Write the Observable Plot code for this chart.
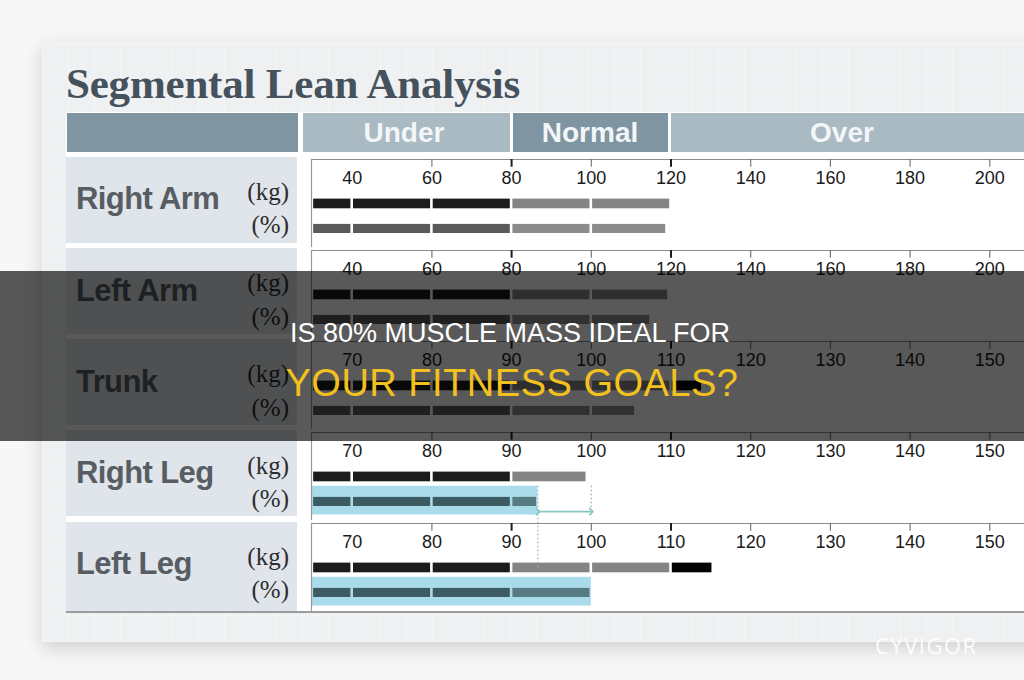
<!DOCTYPE html>
<html>
<head>
<meta charset="utf-8">
<script src="https://cdn.jsdelivr.net/npm/d3@7"></script>
<script src="https://cdn.jsdelivr.net/npm/@observablehq/plot@0.6"></script>
<style>
html, body { margin: 0; padding: 0; }
body { width: 1024px; height: 680px; position: relative; overflow: hidden; background: #f7f7f7; font-family: "Liberation Sans", Arial, sans-serif; }
.abs { position: absolute; }
.txt { position: absolute; line-height: 1; white-space: nowrap; }
#card { left: 42px; top: 42px; width: 1010px; height: 600px; background: #eef0f1;
  box-shadow: 0 6px 18px rgba(0,0,0,0.16);
  background-image: repeating-linear-gradient(90deg, rgba(255,255,255,0.35) 0 1px, transparent 1px 26px),
                    repeating-linear-gradient(0deg, rgba(255,255,255,0.3) 0 1px, transparent 1px 26px); }
#table { left: 66px; top: 112px; width: 958px; height: 500px; background: #ffffff; }
#bottomline { left: 66px; top: 611px; width: 958px; height: 1.5px; background: #9c9c9c; }
#banner { left: 0; top: 271px; width: 1024px; height: 170px; background: rgba(0,0,0,0.65); }
#chart { left: 0; top: 0; }
</style>
</head>
<body>
<div id="card" class="abs"></div>
<div id="table" class="abs"></div>
<div id="layer" class="abs" style="left:0;top:0;width:1024px;height:680px;"></div>
<div id="chart" class="abs"></div>
<div id="bottomline" class="abs"></div>
<div id="banner" class="abs"></div>
<div id="over" class="abs" style="left:0;top:0;width:1024px;height:680px;"></div>
<script>
// ---------------- data ----------------
const title = "Segmental Lean Analysis";
const rows = ["Right Arm", "Left Arm", "Trunk", "Right Leg", "Left Leg"];
const armTicks = [40, 60, 80, 100, 120, 140, 160, 180, 200];
const bodyTicks = [70, 80, 90, 100, 110, 120, 130, 140, 150];
const rowTicks = [armTicks, armTicks, bodyTicks, bodyTicks, bodyTicks];
const normalRanges = [[80, 120], [80, 120], [90, 110], [90, 110], [90, 110]];
const kgValues = [120, 119.5, 114, 99.5, 115.3];
const pctValues = [119, 115, 105.6, 93.3, 100];
const highlightedRows = ["Right Leg", "Left Leg"];
const targetPct = 100;
const zoneLabels = ["Under", "Normal", "Over"];
const unitLabels = ["(kg)", "(%)"];
const bannerLine1 = "IS 80% MUSCLE MASS IDEAL FOR";
const bannerLine2 = "YOUR FITNESS GOALS?";
const watermark = "CYVIGOR";

// ---------------- helpers ----------------
function place(parent, text, o) {
  const d = document.createElement("div");
  d.className = "txt";
  d.textContent = text;
  const asc = o.serif ? 0.8375 : 0.8465;
  d.style.fontSize = o.size + "px";
  d.style.fontFamily = o.family || (o.serif ? '"Liberation Serif", "Times New Roman", serif' : '"Liberation Sans", Arial, sans-serif');
  d.style.fontWeight = o.weight || "normal";
  d.style.color = o.color || "#000";
  if (o.ls) d.style.letterSpacing = o.ls + "px";
  d.style.top = (o.baseline - asc * o.size) + "px";
  d.style.left = o.x + "px";
  if (o.anchor === "middle") d.style.transform = "translateX(-50%)";
  if (o.anchor === "end") d.style.transform = "translateX(-100%)";
  parent.appendChild(d);
  return d;
}
function box(parent, x, y, w, h, color) {
  const d = document.createElement("div");
  d.className = "abs";
  Object.assign(d.style, {left: x + "px", top: y + "px", width: w + "px", height: h + "px", background: color});
  parent.appendChild(d);
}

const layer = document.getElementById("layer");
const over = document.getElementById("over");

// title
place(layer, title, {x: 66, baseline: 98.5, size: 43, serif: true, weight: "bold", color: "#45515c", ls: -0.2});

// header cells
const headerCells = [[66.7, 297.7, "#7f95a2"], [302.7, 510, "#a9bac3"], [512.7, 668.3, "#7f95a2"], [671, 1024, "#a9bac3"]];
headerCells.forEach(([a, b, c]) => box(layer, a, 112.7, b - a, 39, c));
const zoneCenters = [404, 590, 842];
zoneLabels.forEach((z, i) => place(layer, z, {x: zoneCenters[i], baseline: 142.5, size: 28, weight: "bold", color: "#f3f6f8", anchor: "middle"}));

// row label cells
rows.forEach((r, i) => {
  const top = 156.7 + i * 91.25;
  box(layer, 66.2, top, 231.3, i < 4 ? 86 : 90, "#dfe5ea");
  place(layer, r, {x: 76, baseline: top + 53, size: 31, weight: "bold", color: "#575d63", ls: -0.6});
  place(layer, unitLabels[0], {x: 289, baseline: top + 43, size: 25, serif: true, color: "#2e2e2e", anchor: "end"});
  place(layer, unitLabels[1], {x: 289, baseline: top + 76.5, size: 25, serif: true, color: "#2e2e2e", anchor: "end"});
});

// ---------------- chart data tables ----------------
const pos = (v, i) => (v - rowTicks[i][0]) / (rowTicks[i][1] - rowTicks[i][0]);
const startPos = -0.5;

const tickData = [];
rows.forEach((r, i) => rowTicks[i].forEach((t, k) => tickData.push({
  row: r, k, label: String(t), pos: pos(t, i),
  strong: normalRanges[i].includes(t)
})));

const palettes = {
  kg: {under: "#1c1c1c", normal: "#848484", over: "#030303"},
  pct: {under: "#5a5a5a", normal: "#8c8c8c", over: "#5a5a5a"},
  pctHi: {under: "#3c5b63", normal: "#587a83", over: "#3c5b63"}
};
function segments(i, value, band, palette) {
  const bounds = [startPos];
  rowTicks[i].forEach(t => { if (t < value) bounds.push(pos(t, i)); });
  bounds.push(pos(value, i));
  const [lo, hi] = normalRanges[i].map(v => pos(v, i));
  const out = [];
  for (let j = 0; j < bounds.length - 1; j++) {
    const mid = (bounds[j] + bounds[j + 1]) / 2;
    const zone = mid < lo ? "under" : mid < hi ? "normal" : "over";
    out.push({row: rows[i], band, x1: bounds[j], x2: bounds[j + 1], fill: palette[zone]});
  }
  return out;
}
let segs = [];
rows.forEach((r, i) => {
  segs = segs.concat(segments(i, kgValues[i], "kg", palettes.kg));
  const hi = highlightedRows.includes(r);
  segs = segs.concat(segments(i, pctValues[i], "pct", hi ? palettes.pctHi : palettes.pct));
});
const kgSegs = segs.filter(d => d.band === "kg");
const pctSegs = segs.filter(d => d.band === "pct");

const highlights = rows.map((r, i) => ({row: r, x1: startPos, x2: pos(pctValues[i], i), value: pctValues[i], i}))
  .filter(d => highlightedRows.includes(d.row));
const gaps = highlights.filter(d => d.value < targetPct).map(d => ({row: d.row, x1: d.x2, x2: pos(targetPct, d.i)}));

// ---------------- plot ----------------
const pxStep = 79.7, left = 311, right = 1024, zeroPx = 351.7;
const xDomain = [(left - zeroPx) / pxStep, (right - zeroPx) / pxStep];

const chart = Plot.plot({
  width: 1024, height: 680,
  marginLeft: left, marginRight: 0, marginTop: 157, marginBottom: 68,
  style: {background: "transparent", overflow: "visible"},
  x: {domain: xDomain, axis: null},
  y: {type: "band", domain: ["t", "kg", "pct"], padding: 0, axis: null},
  fy: {domain: rows, paddingInner: 0.04, paddingOuter: 0, axis: null},
  color: {type: "identity"},
  marks: [
    Plot.barX(highlights, {x1: "x1", x2: "x2", y: () => "pct", fy: "row", fill: "#a9dbea", insetTop: -4.2, insetBottom: 4.5}),
    Plot.barX(kgSegs, {x1: "x1", x2: "x2", y: () => "kg", fy: "row", fill: "fill", insetLeft: 1.3, insetRight: 1.3, insetTop: 10.6, insetBottom: 8.7}),
    Plot.barX(pctSegs, {x1: "x1", x2: "x2", y: () => "pct", fy: "row", fill: "fill", insetLeft: 1.3, insetRight: 1.3, insetTop: 6.9, insetBottom: 13}),
    Plot.tickX(gaps, {x: "x1", y: () => "pct", fy: "row", stroke: "#98b3bc", strokeWidth: 1.3, strokeDasharray: "1.5,2.5", insetTop: -4.2, insetBottom: -49}),
    Plot.tickX(gaps, {x: "x2", y: () => "pct", fy: "row", stroke: "#98b3bc", strokeWidth: 1.3, strokeDasharray: "1.5,2.5", insetTop: -4.2, insetBottom: 4.5}),
    Plot.link(gaps, {x1: "x1", x2: "x2", y1: () => "pct", y2: () => "pct", fy: "row", dy: 6.6, stroke: "#86c8be", strokeWidth: 1.6, markerStart: "arrow", markerEnd: "arrow"}),
    Plot.frame({anchor: "top", stroke: "#8c8c8c", strokeWidth: 1.2}),
    Plot.frame({anchor: "left", stroke: "#9a9a9a", strokeWidth: 1.2}),
    Plot.tickX(tickData.filter(d => d.k > 0), {x: "pos", y: () => "t", fy: "row",
      stroke: d => d.strong ? "#1e1e1e" : "#6e6e6e", strokeWidth: d => d.strong ? 2 : 1.1, insetBottom: 21.3}),
    Plot.text(tickData, {x: "pos", y: () => "t", fy: "row", text: "label", dy: 4.3, fontSize: 18,
      fontFamily: "Liberation Sans, Arial, sans-serif", fill: "#1a1a1a"})
  ]
});
document.getElementById("chart").appendChild(chart);

// ---------------- banner & watermark ----------------
place(over, bannerLine1, {x: 510, baseline: 342.7, size: 27, color: "#ffffff", anchor: "middle"});
place(over, bannerLine2, {x: 512, baseline: 396, size: 38, color: "#f3c11e", anchor: "middle", ls: 0.5});
place(over, watermark, {x: 875, baseline: 653, size: 22, family: '"Open Sans", Lato, sans-serif', color: "rgba(255,255,255,0.95)", ls: 1.5});
</script>
</body>
</html>
